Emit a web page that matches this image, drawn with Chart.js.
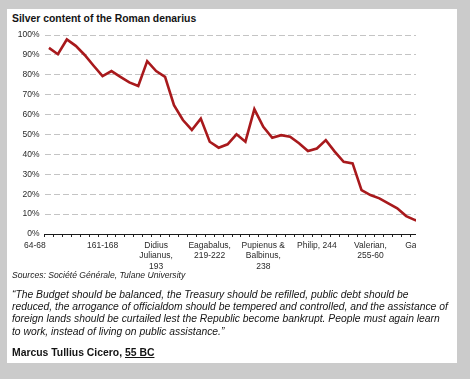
<!DOCTYPE html>
<html>
<head>
<meta charset="utf-8">
<script src="https://cdn.jsdelivr.net/npm/chart.js@4.4.1/dist/chart.umd.min.js"></script>
<style>
  html, body { margin: 0; padding: 0; }
  body { width: 470px; height: 379px; background: #cbcbcb; position: relative; overflow: hidden;
         font-family: "Liberation Sans", Arial, sans-serif; color: #141414; }
  #panel { position: absolute; left: 7px; top: 9px; width: 450px; height: 354px; background: #fff; }
  .abs { position: absolute; white-space: nowrap; }
  #title { left: 12px; top: 13px; font-size: 10.4px; font-weight: bold; line-height: 12px; }
  #wrap { position: absolute; left: 0; top: 25px; width: 416px; height: 250px; overflow: hidden; }
  #src { left: 12px; top: 269.5px; font-size: 8.6px; font-style: italic; line-height: 11px; color: #222; }
  #quote { left: 12px; top: 288.5px; font-size: 10.33px; font-style: italic; line-height: 12.4px; }
  #sig { left: 12px; top: 347px; font-size: 10.4px; font-weight: bold; line-height: 12px; }
  #sig u { text-decoration: underline; }
</style>
</head>
<body>
<div id="panel"></div>
<div id="title" class="abs">Silver content of the Roman denarius</div>
<div id="wrap"><canvas id="c" width="460" height="250" style="width:460px;height:250px;display:block"></canvas></div>
<div id="src" class="abs">Sources: Société Générale, Tulane University</div>
<div id="quote" class="abs">“The Budget should be balanced, the Treasury should be refilled, public debt should be<br>reduced, the arrogance of officialdom should be tempered and controlled, and the assistance of<br>foreign lands should be curtailed lest the Republic become bankrupt. People must again learn<br>to work, instead of living on public assistance.”</div>
<div id="sig" class="abs">Marcus Tullius Cicero, <u>55 BC</u></div>
<script>
// Category labels (only some periods are labelled on the axis)
const categories = [
  "64-68            ", "", "", "", "", "", "161-168", "", "", "", "", "",
  ["Didius", "Julianus,", "193"], "", "", "", "", "",
  ["Eagabalus,", "219-222"], "", "", "", "", "",
  ["Pupienus &", "Balbinus,", "238"], "", "", "", "", "",
  "Philip, 244", "", "", "", "", "",
  ["Valerian,", "255-60"], "", "", "", "", "",
  "Gallienus,"
];
// Silver content, percent
const silverContent = [
  93.6, 90.4, 97.8, 94.6, 90.0, 84.6, 79.4, 81.9, 79.0, 76.2, 74.4, 86.9,
  81.9, 79.0, 64.8, 57.3, 52.3, 58.0, 46.4, 43.4, 45.1, 50.1, 46.4, 62.8,
  53.9, 48.4, 49.7, 48.9, 45.6, 41.7, 43.0, 47.2, 41.4, 36.3, 35.5, 22.1,
  19.6, 17.9, 15.4, 12.9, 9.0, 7.0, 5.5
];
const yTicks = [0, 10, 20, 30, 40, 50, 60, 70, 80, 90, 100];

const tickFont = { family: "'Liberation Sans', Arial, sans-serif", size: 8.5, lineHeight: 1.24 };

new Chart(document.getElementById('c'), {
  type: 'line',
  data: {
    labels: categories,
    datasets: [{
      data: silverContent,
      borderColor: '#a8191c',
      borderWidth: 2.6,
      pointRadius: 0,
      tension: 0,
      fill: false
    }]
  },
  options: {
    responsive: false,
    animation: false,
    devicePixelRatio: 1,
    layout: { padding: { top: 10, left: 0, right: 31.5, bottom: 0 } },
    plugins: { legend: { display: false }, tooltip: { enabled: false }, title: { display: false } },
    scales: {
      x: {
        type: 'category',
        offset: true,
        grid: { display: true, drawOnChartArea: false, drawTicks: true, tickLength: 3, offset: true, color: '#222', lineWidth: 1 },
        border: { display: true, color: '#1a1a1a', width: 1 },
        ticks: { autoSkip: false, maxRotation: 0, minRotation: 0, padding: 3, color: '#2a2a2a', font: tickFont },
        afterFit: (s) => { s.height = 41; }
      },
      y: {
        min: 0, max: 100,
        afterBuildTicks: (s) => { s.ticks = yTicks.map(v => ({ value: v })); },
        grid: { color: '#c4c4c4', lineWidth: 1, drawTicks: false },
        border: { display: false, dash: [6, 3] },
        ticks: { padding: 5, color: '#2a2a2a', font: { family: "'Liberation Sans', Arial, sans-serif", size: 8.5 },
                 callback: (v) => v + '%' },
        afterFit: (s) => { s.width = 44.5; }
      }
    }
  }
});
</script>
</body>
</html>
